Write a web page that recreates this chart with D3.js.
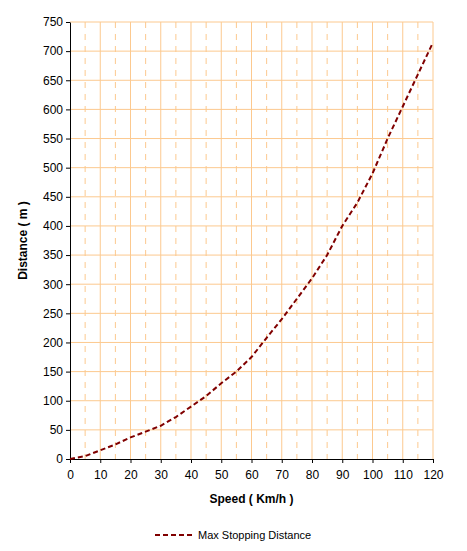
<!DOCTYPE html><html><head><script src="https://d3js.org/d3.v7.min.js"></script>
<style>body{margin:0;background:#fff}text{font-family:Arial,"Liberation Sans",sans-serif}</style></head><body>
<svg id="c" width="467" height="551"></svg>
<script>
const speeds=[0,5,10,15,20,25,30,35,40,45,50,55,60,65,70,75,80,85,90,95,100,105,110,115,120];
const distances=[0,5,15,25,37,47,57,72,90,108,130,150,175,208,240,275,310,350,400,440,490,550,605,660,715];
const xTicks=d3.range(0,121,10), yTicks=d3.range(0,751,50);
const svg=d3.select("#c");
const L=70,R=433,T=22,B=459;
const x=d3.scaleLinear().domain([0,120]).range([L,R]);
const y=d3.scaleLinear().domain([0,750]).range([B,T]);
const g=svg.append("g");
d3.range(5,120,10).forEach(v=>g.append("line").attr("x1",x(v)).attr("x2",x(v)).attr("y1",T).attr("y2",B).attr("stroke","#fcc98f").attr("stroke-width",1).attr("stroke-dasharray","6,6"));
xTicks.slice(1).forEach(v=>g.append("line").attr("x1",x(v)).attr("x2",x(v)).attr("y1",T).attr("y2",B).attr("stroke","#fcc98f"));
yTicks.slice(1).forEach(v=>g.append("line").attr("x1",L).attr("x2",R).attr("y1",y(v)).attr("y2",y(v)).attr("stroke","#fcc98f"));
svg.append("g").attr("transform",`translate(0,${B})`).call(d3.axisBottom(x).tickValues(xTicks).tickSize(4).tickSizeOuter(0)).call(a=>a.selectAll("text").attr("font-size",12).attr("dy","1.1em"));
svg.append("g").attr("transform",`translate(${L},0)`).call(d3.axisLeft(y).tickValues(yTicks).tickSize(4).tickSizeOuter(0)).call(a=>a.selectAll("text").attr("font-size",12));
svg.selectAll(".domain,.tick line").attr("stroke","#000");
svg.append("path").datum(speeds.map((s,i)=>[s,distances[i]])).attr("fill","none").attr("stroke","#800000").attr("stroke-width",2).attr("stroke-dasharray","5,3").attr("d",d3.line().x(d=>x(d[0])).y(d=>y(d[1])));
svg.append("text").attr("x",(L+R)/2).attr("y",503).attr("text-anchor","middle").attr("font-size",12).attr("font-weight","bold").text("Speed ( Km/h )");
svg.append("text").attr("transform",`translate(27,${(T+B)/2}) rotate(-90)`).attr("text-anchor","middle").attr("font-size",12).attr("font-weight","bold").text("Distance ( m )");
svg.append("line").attr("x1",155).attr("x2",194).attr("y1",535).attr("y2",535).attr("stroke","#800000").attr("stroke-width",2).attr("stroke-dasharray","5,3");
svg.append("text").attr("x",198).attr("y",539).attr("font-size",11).text("Max Stopping Distance");
</script></body></html>
